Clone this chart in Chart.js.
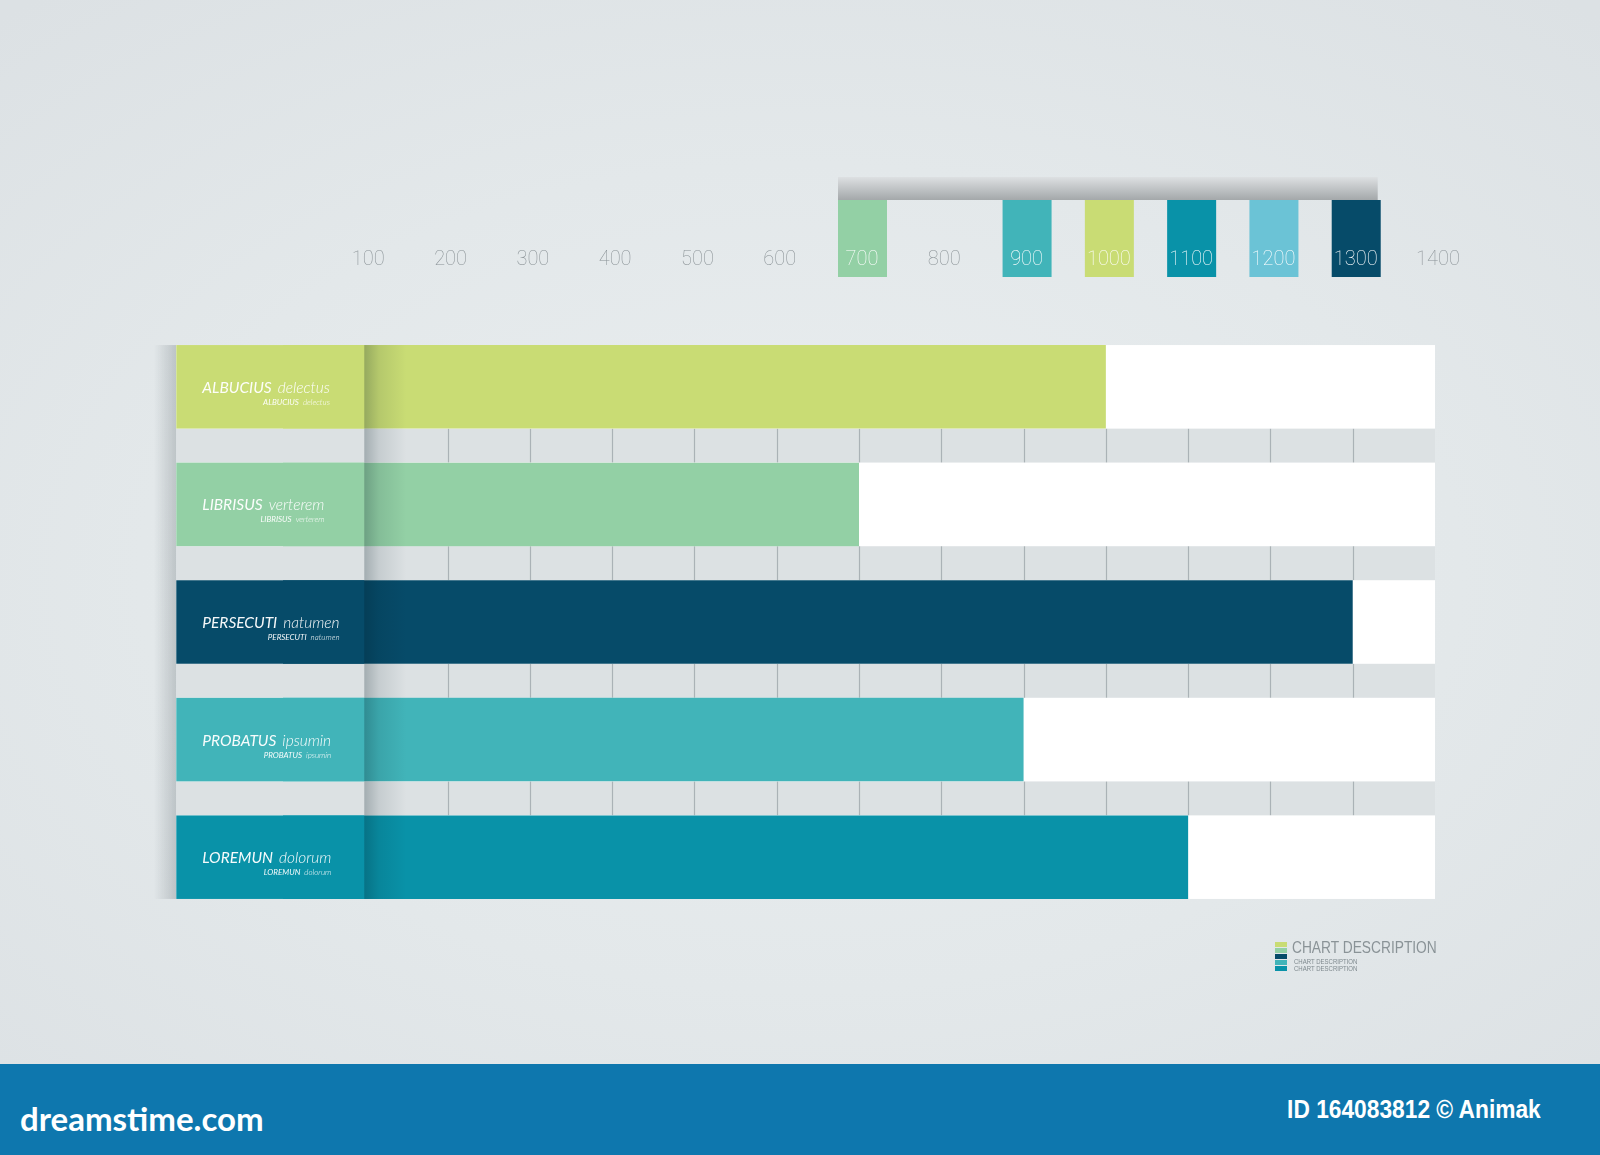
<!DOCTYPE html>
<html>
<head>
<meta charset="utf-8">
<title>Bar chart</title>
<script src="https://cdn.jsdelivr.net/npm/chart.js@4.4.1/dist/chart.umd.min.js"></script>
<style>
  html, body { margin: 0; padding: 0; }
  body {
    width: 1600px; height: 1155px; overflow: hidden; position: relative;
    background: radial-gradient(ellipse 75% 65% at 50% 50%, #eaeef0 0%, #e3e8ea 55%, #dce1e4 100%);
  }
  #chart { position: absolute; left: 0; top: 0; }
  .desc { position: absolute; font-family: "Liberation Sans", sans-serif; color: #8a9397; white-space: nowrap; transform-origin: 0 0; transform: scaleX(0.86); }
  .desc.big { left: 1292px; top: 940px; font-size: 16px; line-height: 16px; }
  .desc.small { left: 1294px; font-size: 7px; line-height: 7px; color: #7f898e; }
  .footer { position: absolute; left: 0; top: 1064px; width: 1600px; height: 91px; background: #0e77ae; color: #fff; }
  .footer .logo { position: absolute; left: 20px; top: 36px; font-family: Lato, sans-serif; font-weight: 700; font-size: 33px; line-height: 36px; }
  .footer .credit { position: absolute; right: 59px; top: 31px; font-family: "Liberation Sans", sans-serif; font-weight: 700; font-size: 25px; line-height: 28px; transform-origin: 100% 0; transform: scaleX(0.91); white-space: nowrap; }
</style>
</head>
<body>
<canvas id="chart" width="1600" height="1155"></canvas>

<div class="desc big">CHART DESCRIPTION</div>
<div class="desc small" style="top:958px">CHART DESCRIPTION</div>
<div class="desc small" style="top:965px">CHART DESCRIPTION</div>

<div class="footer">
  <span class="logo">dreamstime.com</span>
  <span class="credit">ID 164083812 © Animak</span>
</div>

<script>
"use strict";

// Data
const categories = ["ALBUCIUS", "LIBRISUS", "PERSECUTI", "PROBATUS", "LOREMUN"];
const subtitles = ["delectus", "verterem", "natumen", "ipsumin", "dolorum"];
const values = [1000, 700, 1300, 900, 1100];
const barColors = ["#c9dc74", "#93d0a5", "#064b69", "#41b4b9", "#0992a8"];

const tickLabels = [100, 200, 300, 400, 500, 600, 700, 800, 900, 1000, 1100, 1200, 1300, 1400];
const gridValues = [200, 300, 400, 500, 600, 700, 800, 900, 1000, 1100, 1200, 1300];
const markerValues = [700, 900, 1000, 1100, 1200, 1300];
const markerColors = ["#93d0a5", "#41b4b9", "#c9dc74", "#0992a8", "#6bc3d6", "#064b69"];

// Decorations: label panels, gaps, tracks, top markers
const decor = {
  id: "decor",
  beforeDraw(chart) {
    const { ctx, scales: { x } } = chart;
    const bandL = x.getPixelForValue(markerValues[0]) - 21;
    const bandR = x.getPixelForValue(markerValues[markerValues.length - 1]) + 25;
    ctx.save();
    const g = ctx.createLinearGradient(0, 177, 0, 200);
    g.addColorStop(0, "#dde0e2");
    g.addColorStop(1, "#a4a8aa");
    ctx.fillStyle = g;
    ctx.fillRect(bandL, 177, bandR - bandL, 23);
    markerValues.forEach((v, i) => {
      ctx.fillStyle = markerColors[i];
      ctx.fillRect(x.getPixelForValue(v) - 21, 200, 49, 77);
    });
    ctx.restore();
  },
  beforeDatasetsDraw(chart) {
    const { ctx, scales: { x } } = chart;
    const bars = chart.getDatasetMeta(0).data;
    const left = x.getPixelForValue(tickLabels[0]) - 189;
    const right = x.getPixelForValue(x.max);
    const top = bars[0].y - bars[0].height / 2;
    const last = bars[bars.length - 1];
    const bottom = last.y + last.height / 2;
    ctx.save();
    // soft shadow left of the block
    const sh = ctx.createLinearGradient(left - 22, 0, left, 0);
    sh.addColorStop(0, "rgba(110,120,126,0)");
    sh.addColorStop(1, "rgba(110,120,126,0.32)");
    ctx.fillStyle = sh;
    ctx.fillRect(left - 22, top, 22, bottom - top);
    // gaps with grid lines
    for (let i = 0; i < bars.length - 1; i++) {
      const gTop = bars[i].y + bars[i].height / 2;
      const gBot = bars[i + 1].y - bars[i + 1].height / 2;
      ctx.fillStyle = "#dce1e3";
      ctx.fillRect(left, gTop, right - left, gBot - gTop);
      ctx.strokeStyle = "#aab2b6";
      ctx.lineWidth = 1.2;
      gridValues.forEach((v) => {
        const px = Math.round(x.getPixelForValue(v)) + 0.5;
        ctx.beginPath();
        ctx.moveTo(px, gTop);
        ctx.lineTo(px, gBot);
        ctx.stroke();
      });
    }
    // white tracks
    bars.forEach((b) => {
      ctx.fillStyle = "#ffffff";
      ctx.fillRect(left, b.y - b.height / 2, right - left, b.height);
    });
    ctx.restore();
  },
  afterDatasetsDraw(chart) {
    const { ctx, scales: { x } } = chart;
    const bars = chart.getDatasetMeta(0).data;
    const panelR = x.getPixelForValue(tickLabels[0]) - 1;
    const left = panelR - 188;
    const top = bars[0].y - bars[0].height / 2;
    const last = bars[bars.length - 1];
    const bottom = last.y + last.height / 2;
    ctx.save();
    bars.forEach((b, i) => {
      const bTop = b.y - b.height / 2;
      ctx.fillStyle = barColors[i];
      ctx.fillRect(left, bTop, panelR - left, b.height);

      // labels
      const tx = left + 26;
      const ty = b.y + 6;
      ctx.fillStyle = "rgba(255,255,255,0.96)";
      ctx.textBaseline = "alphabetic";
      ctx.textAlign = "left";
      ctx.font = "italic 400 15.5px Lato";
      const w1 = ctx.measureText(categories[i]).width;
      ctx.fillText(categories[i], tx, ty);
      ctx.font = "italic 300 15.5px Lato";
      const w2 = ctx.measureText(subtitles[i]).width;
      ctx.fillText(subtitles[i], tx + w1 + 6, ty);
      const endX = tx + w1 + 6 + w2;

      ctx.font = "italic 300 8px Lato";
      const s2 = ctx.measureText(subtitles[i]).width;
      ctx.fillText(subtitles[i], endX - s2, ty + 12);
      ctx.font = "italic 400 8px Lato";
      const s1 = ctx.measureText(categories[i]).width;
      ctx.fillText(categories[i], endX - s2 - 4 - s1, ty + 12);
    });
    // fold shadow
    const fg = ctx.createLinearGradient(panelR, 0, panelR + 42, 0);
    fg.addColorStop(0, "rgba(0,25,35,0.26)");
    fg.addColorStop(0.35, "rgba(0,25,35,0.10)");
    fg.addColorStop(1, "rgba(0,25,35,0)");
    ctx.fillStyle = fg;
    ctx.fillRect(panelR, top, 42, bottom - top);
    ctx.restore();
  },
  afterDraw(chart) {
    const { ctx } = chart;
    ctx.save();
    barColors.forEach((c, i) => {
      ctx.fillStyle = c;
      ctx.fillRect(1275, 942 + i * 6, 12, 5);
    });
    ctx.restore();
  }
};

new Chart(document.getElementById("chart"), {
  type: "bar",
  data: {
    labels: categories,
    datasets: [{
      data: values,
      backgroundColor: barColors,
      borderWidth: 0,
      barPercentage: 0.71,
      categoryPercentage: 1
    }]
  },
  options: {
    indexAxis: "y",
    responsive: false,
    animation: false,
    layout: { padding: { left: 283, right: 165, top: 200, bottom: 239 } },
    plugins: { legend: { display: false }, tooltip: { enabled: false } },
    scales: {
      x: {
        position: "top",
        min: 0,
        max: 1400,
        grid: { display: false, drawTicks: false },
        border: { display: false },
        afterFit: (s) => { s.height = 128; },
        afterBuildTicks: (s) => { s.ticks = tickLabels.map((v) => ({ value: v })); },
        ticks: {
          padding: 56,
          labelOffset: 3,
          maxRotation: 0,
          autoSkip: false,
          callback: (v) => String(v),
          font: { family: "Roboto", weight: "100", size: 20 },
          color: (c) => markerValues.includes(c.tick.value) ? "#ffffff" : "#8a9296"
        }
      },
      y: { display: false }
    }
  },
  plugins: [decor]
});
</script>
</body>
</html>
